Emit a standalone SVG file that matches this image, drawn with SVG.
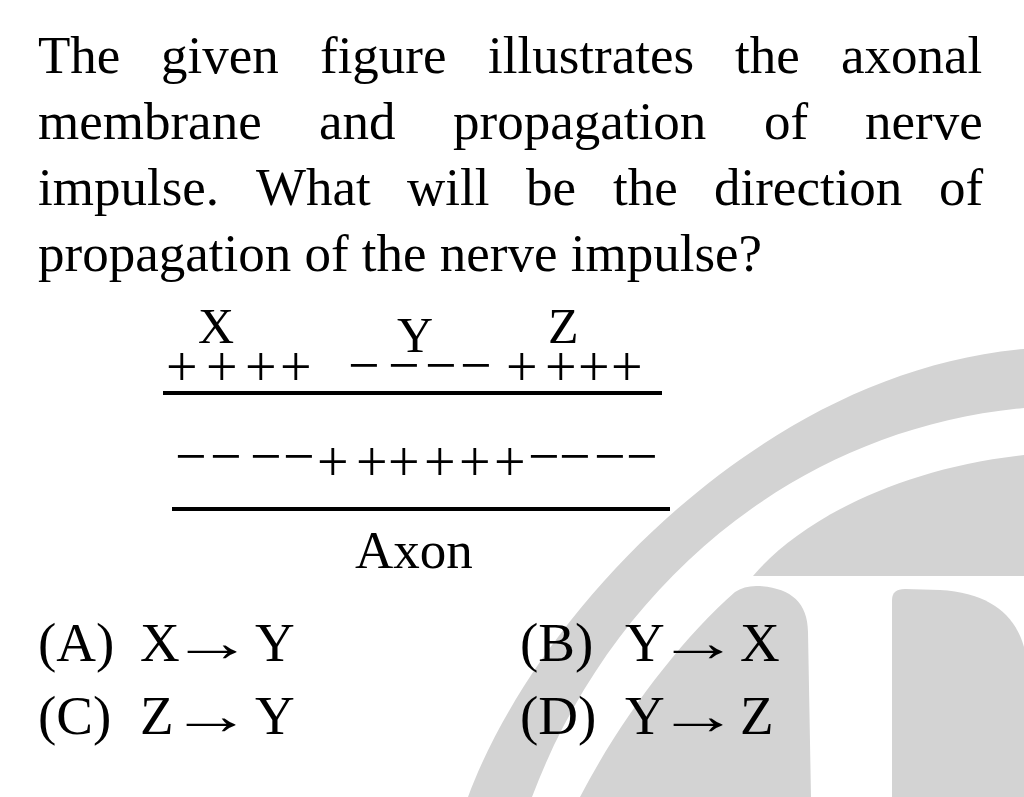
<svg xmlns="http://www.w3.org/2000/svg" width="1024" height="797" viewBox="0 0 1024 797">
<style>
text{font-family:"Liberation Serif","Times New Roman",serif;fill:#000}
.q{font-size:53px}
.lbl{font-size:50px}
.sg{font-size:56px}
.opt{font-size:55px}
.arr{font-size:55px}
.wm{fill:#d3d3d3}
.mem{stroke:#000;stroke-width:4}
</style>
<rect width="1024" height="797" fill="#fff"/>
<g id="watermark">
<path class="wm" d="M468 797 C535 615 760 372 1024 349 L1024 408 C790 430 610 590 532 797 Z"/>
<path class="wm" d="M753 576 C800 520 900 468 1024 455 L1024 576 Z"/>
<path class="wm" d="M580 797 C620 720 680 640 735 592 Q745 585 760 586 C790 588 808 602 808 632 L811 797 Z"/>
<path class="wm" d="M892 797 L892 600 Q892 589 905 589 L940 590 C990 593 1015 615 1024 647 L1024 797 Z"/>
</g>
<g id="question">
<text class="q" y="73"><tspan x="38">The</tspan><tspan x="161">given</tspan><tspan x="320">figure</tspan><tspan x="488">illustrates</tspan><tspan x="735">the</tspan><tspan x="841">axonal</tspan></text>
<text class="q" y="139"><tspan x="38">membrane</tspan><tspan x="319">and</tspan><tspan x="453">propagation</tspan><tspan x="764">of</tspan><tspan x="865">nerve</tspan></text>
<text class="q" y="205"><tspan x="38">impulse.</tspan><tspan x="256">What</tspan><tspan x="407">will</tspan><tspan x="526">be</tspan><tspan x="613">the</tspan><tspan x="714">direction</tspan><tspan x="939">of</tspan></text>
<text class="q" x="38" y="271">propagation of the nerve impulse?</text>
</g>
<g id="axon-figure">
<g id="labels">
<text class="lbl" x="198" y="343">X</text>
<text class="lbl" x="397" y="352">Y</text>
<text class="lbl" x="548" y="343">Z</text>
</g>
<g id="outer-charges">
<text class="sg" x="166 206 245 280" y="386">++++</text>
<text class="sg" x="348 388 425 460" y="384">−−−−</text>
<text class="sg" x="506 545 578 611" y="386">++++</text>
</g>
<g id="inner-charges">
<text class="sg" x="175 210 250 283" y="475">−−−−</text>
<text class="sg" x="317 356 388 424 459 494" y="481">++++++</text>
<text class="sg" x="528 559 594 626" y="475">−−−−</text>
</g>
<g id="membranes">
<line class="mem" x1="163" y1="393" x2="662" y2="393"/>
<line class="mem" x1="172" y1="509" x2="670" y2="509"/>
</g>
<text id="axon-label" class="q" x="355" y="568">Axon</text>
</g>
<g id="options">
<g id="optA"><text class="opt" x="38" y="661">(A)</text><text class="opt" x="140" y="661">X</text><text class="arr" transform="translate(171 661) scale(1.5 1)">→</text><text class="opt" x="255" y="661">Y</text></g>
<g id="optB"><text class="opt" x="520" y="661">(B)</text><text class="opt" x="625" y="661">Y</text><text class="arr" transform="translate(657 661) scale(1.5 1)">→</text><text class="opt" x="740" y="661">X</text></g>
<g id="optC"><text class="opt" x="38" y="734">(C)</text><text class="opt" x="140" y="734">Z</text><text class="arr" transform="translate(170 734) scale(1.5 1)">→</text><text class="opt" x="255" y="734">Y</text></g>
<g id="optD"><text class="opt" x="520" y="734">(D)</text><text class="opt" x="625" y="734">Y</text><text class="arr" transform="translate(657 734) scale(1.5 1)">→</text><text class="opt" x="740" y="734">Z</text></g>
</g>
</svg>
